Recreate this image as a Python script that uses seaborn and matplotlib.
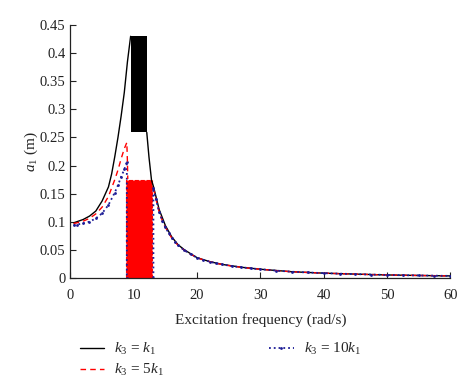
import numpy as np
import pandas as pd
import matplotlib
matplotlib.use("Agg")
import matplotlib.pyplot as plt
import seaborn as sns

# ---- data ----
# k3 = k1 (black solid)
black_x = [0.5, 1, 2, 3, 4, 5, 6, 6.5, 7, 7.5, 8, 8.5, 9, 9.5]
black_y = [0.098, 0.100, 0.104, 0.110, 0.119, 0.137, 0.162, 0.185, 0.216, 0.250, 0.288, 0.330, 0.385, 0.430]
black_tail_x = [12.05, 12.4, 12.8, 13.1, 13.5, 14, 15, 16, 17, 18, 20, 22, 24, 27, 30, 35, 40, 45, 50, 55, 60]
black_tail_y = [0.259, 0.215, 0.174, 0.163, 0.145, 0.122, 0.093, 0.073, 0.059, 0.050, 0.036, 0.029, 0.024, 0.019,
                0.0155, 0.011, 0.0085, 0.0068, 0.0053, 0.0044, 0.0036]
black_band_x = [9.5, 12.05]
black_band_lo = [0.259, 0.259]
black_band_hi = [0.431, 0.431]

# k3 = 5 k1 (red dashed)
red_x = [0.5, 1, 2, 3, 4, 5, 6, 7, 7.5, 8, 8.5, 8.9, 9.0, 9.05]
red_y = [0.097, 0.098, 0.101, 0.106, 0.114, 0.126, 0.145, 0.175, 0.192, 0.212, 0.230, 0.241, 0.205, 0.176]
red_band_x = [8.75, 12.85]
red_band_lo = [0.0, 0.0]
red_band_hi = [0.175, 0.175]

# k3 = 10 k1 (blue dotted)
blue_x = [0.5, 1, 2, 3, 4, 5, 6, 7, 7.5, 8, 8.5, 8.9, 8.9]
blue_y = [0.094, 0.095, 0.097, 0.100, 0.106, 0.115, 0.130, 0.152, 0.165, 0.180, 0.193, 0.207, 0.0]
tail_x = [13.1, 13.1, 13.5, 14, 14.5, 15, 15.5, 16, 16.5, 17, 18, 19, 20, 21, 22, 23, 24, 25.5, 27, 28.5, 30,
          32.5, 35, 37.5, 40, 42.5, 45, 47.5, 50, 52.5, 55, 57.5, 60]
tail_y = [0.0, 0.160, 0.140, 0.118, 0.102, 0.090, 0.080, 0.071, 0.064, 0.058, 0.049, 0.042, 0.036, 0.032,
          0.029, 0.026, 0.024, 0.021, 0.019, 0.017, 0.0155, 0.013, 0.011, 0.0097, 0.0085, 0.0076, 0.0068,
          0.006, 0.0053, 0.0048, 0.0044, 0.004, 0.0036]

x_ticks = [0, 10, 20, 30, 40, 50, 60]
y_ticks = [0, 0.05, 0.1, 0.15, 0.2, 0.25, 0.3, 0.35, 0.4, 0.45]
y_tick_labels = ["0", "0.05", "0.1", "0.15", "0.2", "0.25", "0.3", "0.35", "0.4", "0.45"]

BLUE = "#1c1c96"

sns.set_theme(style="ticks")
plt.rcParams["font.family"] = ["Liberation Serif", "DejaVu Serif"]
plt.rcParams["mathtext.fontset"] = "custom"
plt.rcParams["mathtext.rm"] = "Liberation Serif"
plt.rcParams["mathtext.it"] = "Liberation Serif:italic"

fig = plt.figure(figsize=(4.74, 3.92), dpi=100)
ax = fig.add_axes([0.1487, 0.291, 0.8013, 0.645])


def garis(x, y, **kw):
    d = pd.DataFrame({"x": x, "y": y})
    sns.lineplot(data=d, x="x", y="y", sort=False, estimator=None, ax=ax, **kw)


# black curve + chaotic band
garis(black_x, black_y, color="black", lw=1.0)
garis(black_tail_x, black_tail_y, color="black", lw=1.0)
ax.fill_between(black_band_x, black_band_lo, black_band_hi, color="black", lw=0)

# red tail (mostly under blue)
garis(tail_x[1:], tail_y[1:], color="red", lw=1.0, linestyle=(0, (4, 3)))

# blue curve
garis(blue_x, blue_y, color=BLUE, lw=1.3, linestyle=":", marker=".", markersize=4, markeredgewidth=0)
garis(tail_x, tail_y, color=BLUE, lw=1.3, linestyle=":", marker=".", markersize=4, markeredgewidth=0)

# red curve + chaotic band
garis(red_x, red_y, color="red", lw=1.0, linestyle=(0, (4, 3)))
ax.fill_between(red_band_x, red_band_lo, red_band_hi, color="red", lw=0.8,
                edgecolor="red", linestyle="--")

ax.set_xlim(0, 60)
ax.set_ylim(0, 0.45)
ax.set_xticks(x_ticks)
ax.set_xticklabels([str(t) for t in x_ticks])
ax.set_yticks(y_ticks)
ax.set_yticklabels(y_tick_labels)
ax.tick_params(direction="in", length=4, width=0.8, labelsize=10.5, colors="#222222")
ax.tick_params(axis="x", pad=8)
for s in ["top", "right"]:
    ax.spines[s].set_visible(False)
for s in ["left", "bottom"]:
    ax.spines[s].set_linewidth(0.9)
    ax.spines[s].set_color("#222222")

ax.set_xlabel("Excitation frequency (rad/s)", fontsize=11, labelpad=8)
ax.set_ylabel("$a_1$ (m)", fontsize=11, labelpad=0)

# legend below the axes
h_black = plt.Line2D([], [], color="black", lw=1.0)
h_red = plt.Line2D([], [], color="red", lw=1.0, linestyle=(0, (4, 3)))
h_blue = plt.Line2D([], [], color=BLUE, lw=1.3, linestyle=":", marker=".", markersize=4,
                    markevery=[1, 2], markeredgewidth=0)
fig.legend([h_black, h_red, h_blue],
           ["$k_3$ = $k_1$", "$k_3$ = 5$k_1$", "$k_3$ = 10$k_1$"],
           ncol=2, loc="upper left", bbox_to_anchor=(0.155, 0.145),
           frameon=False, fontsize=11, handlelength=1.6, columnspacing=6.9,
           labelspacing=0.3, handletextpad=0.65, borderaxespad=0)

fig.savefig("out.png", dpi=100)
